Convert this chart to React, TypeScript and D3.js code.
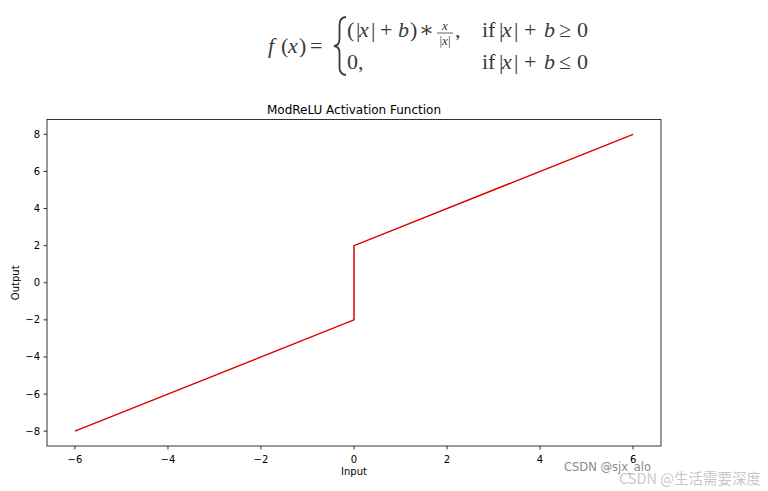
import React from "react";
import * as d3 from "d3";

const inputX = [-6, 0, 0, 6];
const outputY = [-8, -2, 2, 8];
const xTicks = [-6, -4, -2, 0, 2, 4, 6];
const yTicks = [-8, -6, -4, -2, 0, 2, 4, 6, 8];
const title = "ModReLU Activation Function";
const xLabel = "Input";
const yLabel = "Output";

const W = 768, H = 491;
const L = 47, R = 661, T = 119.5, B = 446;

type Piece = [string, number, number, boolean, number?];
// [text, x, baseline, italic, fontSize]
const formula: Piece[] = [
  ["f", 268, 53, true],
  ["(", 281, 53, false],
  ["x", 288, 53, true],
  [")", 299, 53, false],
  ["=", 310, 53, false],
  ["(", 347, 37, false],
  ["|", 356, 37, false],
  ["x", 359, 37, true],
  ["|", 371, 37, false],
  ["+", 380, 37, false],
  ["b", 398, 37, true],
  [")", 410, 37, false],
  ["∗", 419, 37, false],
  [",", 455, 37, false],
  ["if", 482, 37, false],
  ["|", 499, 37, false],
  ["x", 502, 37, true],
  ["|", 514, 37, false],
  ["+", 524, 37, false],
  ["b", 544, 37, true],
  ["≥", 559, 37, false],
  ["0", 577, 37, false],
  ["0,", 347, 69, false],
  ["if", 482, 69, false],
  ["|", 499, 69, false],
  ["x", 502, 69, true],
  ["|", 514, 69, false],
  ["+", 524, 69, false],
  ["b", 544, 69, true],
  ["≤", 559, 69, false],
  ["0", 577, 69, false],
];

export default function App() {
  const x = d3.scaleLinear().domain([-6.6, 6.6]).range([L, R]);
  const y = d3.scaleLinear().domain([-8.8, 8.8]).range([B, T]);
  const pts = inputX.map((v, i) => [v, outputY[i]] as [number, number]);
  const line = d3.line<[number, number]>().x(d => x(d[0])).y(d => y(d[1]));
  const fmt = (v: number) => (v < 0 ? "\u2212" + Math.abs(v) : String(v));
  const tickFont = "DejaVu Sans, sans-serif";
  const mathFont = "'Liberation Serif', 'DejaVu Serif', serif";
  const mc = "#3a3a3a";
  return (
    <svg width={W} height={H} style={{ position: "absolute", left: 0, top: 0, background: "#fff" }}>
      {/* formula */}
      <g fill={mc} fontFamily={mathFont} fontSize={22}>
        {formula.map((p, i) => (
          <text key={i} x={p[1]} y={p[2]} fontStyle={p[3] ? "italic" : "normal"} fontSize={p[4] ?? 22}>{p[0]}</text>
        ))}
        <path d="M 346 17 Q 339.5 17.5 339.5 25 L 339.5 39 Q 339.5 45.5 334 46 Q 339.5 46.5 339.5 53 L 339.5 67 Q 339.5 74.5 346 75"
          fill="none" stroke={mc} strokeWidth={1.8} />
        <text x={445} y={30} fontSize={13} textAnchor="middle" fontStyle="italic">x</text>
        <line x1={437} x2={453} y1={33} y2={33} stroke={mc} strokeWidth={0.8} />
        <text x={445} y={45} fontSize={13} textAnchor="middle">
          <tspan>|</tspan><tspan fontStyle="italic">x</tspan><tspan>|</tspan>
        </text>
      </g>

      {/* title */}
      <text x={(L + R) / 2} y={114} textAnchor="middle" fontFamily={tickFont} fontSize={12} fill="#000">{title}</text>

      {/* line */}
      <path d={line(pts) || ""} fill="none" stroke="#dd0000" strokeWidth={1.5} />

      {/* frame */}
      <rect x={L} y={T} width={R - L} height={B - T} fill="none" stroke="#000" strokeWidth={0.8} />

      {/* x ticks */}
      {xTicks.map(t => (
        <g key={"x" + t}>
          <line x1={x(t)} x2={x(t)} y1={B} y2={B + 3.5} stroke="#000" strokeWidth={0.8} />
          <text x={x(t)} y={B + 17} textAnchor="middle" fontFamily={tickFont} fontSize={10} fill="#000">{fmt(t)}</text>
        </g>
      ))}
      {/* y ticks */}
      {yTicks.map(t => (
        <g key={"y" + t}>
          <line x1={L - 3.5} x2={L} y1={y(t)} y2={y(t)} stroke="#000" strokeWidth={0.8} />
          <text x={L - 7} y={y(t) + 3.5} textAnchor="end" fontFamily={tickFont} fontSize={10} fill="#000">{fmt(t)}</text>
        </g>
      ))}

      <text x={(L + R) / 2} y={475} textAnchor="middle" fontFamily={tickFont} fontSize={10} fill="#000">{xLabel}</text>
      <text transform={`translate(19,${(T + B) / 2}) rotate(-90)`} textAnchor="middle" fontFamily={tickFont} fontSize={10} fill="#000">{yLabel}</text>

      {/* watermarks */}
      <text x={564} y={471} fontFamily="DejaVu Sans, sans-serif" fontSize={11.5} fill="#8a8a8a">CSDN @sjx_alo</text>
      <text x={619} y={484} fontFamily="'Noto Sans CJK SC', sans-serif" fontSize={14.5} fill="#c8c8c8">CSDN @生活需要深度</text>
    </svg>
  );
}
